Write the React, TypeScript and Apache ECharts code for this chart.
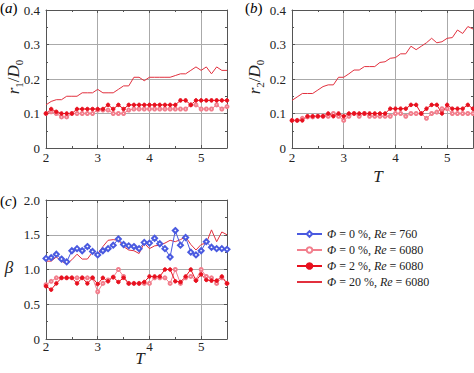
import React, { useEffect, useRef } from 'react';
import * as echarts from 'echarts';

const T = [2.0, 2.1, 2.2, 2.3, 2.4, 2.5, 2.6, 2.7, 2.8, 2.9, 3.0, 3.1, 3.2, 3.3, 3.4, 3.5, 3.6, 3.7, 3.8, 3.9, 4.0, 4.1, 4.2, 4.3, 4.4, 4.5, 4.6, 4.7, 4.8, 4.9, 5.0, 5.1, 5.2, 5.3, 5.4, 5.5];

// panel (a): r1/D0
const a0_6080 = [0.1, 0.105, 0.1, 0.09, 0.09, 0.1, 0.1, 0.1, 0.1, 0.1, 0.11, 0.11, 0.11, 0.1, 0.1, 0.1, 0.11, 0.113, 0.113, 0.113, 0.113, 0.113, 0.113, 0.113, 0.113, 0.113, 0.113, 0.113, 0.125, 0.125, 0.113, 0.113, 0.113, 0.125, 0.113, 0.12];
const a2_6080 = [0.1, 0.113, 0.105, 0.1, 0.1, 0.1, 0.113, 0.113, 0.113, 0.113, 0.113, 0.113, 0.125, 0.113, 0.125, 0.113, 0.125, 0.125, 0.125, 0.125, 0.125, 0.125, 0.125, 0.125, 0.125, 0.125, 0.138, 0.138, 0.125, 0.138, 0.138, 0.138, 0.138, 0.138, 0.138, 0.138];
const a20_6080 = [0.125, 0.135, 0.14, 0.14, 0.15, 0.15, 0.15, 0.16, 0.16, 0.16, 0.17, 0.16, 0.16, 0.16, 0.17, 0.18, 0.18, 0.205, 0.205, 0.195, 0.205, 0.205, 0.205, 0.205, 0.205, 0.21, 0.215, 0.215, 0.225, 0.235, 0.225, 0.235, 0.215, 0.235, 0.225, 0.225];

// panel (b): r2/D0
const b0_6080 = [0.08, 0.08, 0.086, 0.09, 0.09, 0.092, 0.092, 0.092, 0.1, 0.092, 0.08, 0.092, 0.1, 0.092, 0.1, 0.092, 0.092, 0.092, 0.092, 0.092, 0.1, 0.1, 0.092, 0.1, 0.1, 0.1, 0.086, 0.1, 0.104, 0.114, 0.114, 0.1, 0.1, 0.1, 0.1, 0.1];
const b2_6080 = [0.08, 0.08, 0.08, 0.092, 0.092, 0.092, 0.092, 0.1, 0.092, 0.1, 0.092, 0.1, 0.1, 0.1, 0.1, 0.1, 0.1, 0.1, 0.1, 0.114, 0.114, 0.114, 0.114, 0.125, 0.125, 0.1, 0.114, 0.125, 0.125, 0.1, 0.125, 0.114, 0.114, 0.114, 0.125, 0.114];
const b20_6080 = [0.138, 0.148, 0.158, 0.158, 0.158, 0.168, 0.178, 0.183, 0.183, 0.205, 0.205, 0.215, 0.226, 0.226, 0.236, 0.236, 0.236, 0.248, 0.25, 0.26, 0.262, 0.273, 0.273, 0.295, 0.285, 0.295, 0.305, 0.318, 0.305, 0.308, 0.318, 0.32, 0.342, 0.332, 0.352, 0.345];

// panel (c): beta
const c0_760 = [1.16, 1.17, 1.22, 1.15, 1.11, 1.27, 1.3, 1.27, 1.33, 1.26, 1.21, 1.27, 1.3, 1.35, 1.44, 1.36, 1.34, 1.33, 1.3, 1.39, 1.38, 1.45, 1.37, 1.3, 1.18, 1.56, 1.35, 1.46, 1.25, 1.21, 1.27, 1.4, 1.32, 1.3, 1.3, 1.29];
const c0_6080 = [0.78, 0.83, 0.88, 0.88, 0.88, 0.88, 0.88, 0.88, 0.88, 0.88, 0.68, 0.8, 0.85, 0.89, 1.0, 0.9, 0.8, 0.8, 0.8, 0.8, 0.8, 0.88, 0.88, 0.88, 0.8, 1.0, 0.8, 0.88, 0.9, 0.85, 1.0, 0.9, 0.88, 0.8, 0.88, 0.8];
const c2_6080 = [0.76, 0.71, 0.8, 0.88, 0.88, 0.88, 0.8, 0.88, 0.8, 0.88, 0.79, 0.88, 0.83, 0.89, 0.82, 0.88, 0.8, 0.8, 0.8, 0.82, 0.9, 0.9, 0.9, 1.0, 1.0, 0.83, 0.82, 0.9, 1.0, 0.84, 0.93, 0.85, 0.84, 0.84, 0.9, 0.8];
const c20_6080 = [1.12, 1.12, 1.18, 1.12, 1.08, 1.14, 1.22, 1.15, 1.15, 1.25, 1.22, 1.33, 1.42, 1.43, 1.42, 1.33, 1.28, 1.27, 1.23, 1.38, 1.3, 1.34, 1.35, 1.38, 1.42, 1.4, 1.43, 1.47, 1.36, 1.28, 1.36, 1.38, 1.57, 1.4, 1.54, 1.5];

const xTicks = [2, 3, 4, 5];
const r1Ticks = ['0', '0.1', '0.2', '0.3', '0.4'];
const betaTicks = ['0', '0.5', '1.0', '1.5', '2.0'];

const SERIES_NAMES = ['p0_760', 'p0_6080', 'p2_6080', 'p20_6080'];
const LEGEND_TEXT: Record<string, string> = {
  p0_760: '{i|Φ} = 0 %, {i|Re} = 760',
  p0_6080: '{i|Φ} = 0 %, {i|Re} = 6080',
  p2_6080: '{i|Φ} = 2 %, {i|Re} = 6080',
  p20_6080: '{i|Φ} = 20 %, {i|Re} = 6080',
};

const FONT = 'Liberation Serif';
const TXT = '#222';
const AX = '#555';
const GRIDC = '#aaaaaa';

const STYLE: Record<string, any> = {
  p0_760: { color: '#4a5ae0', symbol: 'emptyDiamond', symbolSize: 5 },
  p0_6080: { color: '#f27f8d', symbol: 'emptyCircle', symbolSize: 3 },
  p2_6080: { color: '#e8101e', symbol: 'circle', symbolSize: 3.5 },
  p20_6080: { color: '#e2303e', symbol: 'none', symbolSize: 0 },
};

function pairs(v: number[]) {
  return v.map((y, i) => [T[i], y]);
}

function mkSeries(name: string, values: number[], idx: number) {
  const s = STYLE[name];
  return {
    type: 'line',
    name,
    xAxisIndex: idx,
    yAxisIndex: idx,
    data: pairs(values),
    symbol: s.symbol,
    symbolSize: s.symbolSize,
    showSymbol: s.symbol !== 'none',
    color: s.color,
    lineStyle: { width: 1, color: s.color },
    itemStyle: { color: s.color, borderColor: s.color, borderWidth: 1 },
    emphasis: { disabled: true },
  };
}

const grids = [
  { left: 46, top: 10, width: 181, height: 138 },
  { left: 292, top: 10, width: 181, height: 138 },
  { left: 46, top: 200, width: 181, height: 139 },
];

const yRanges = [
  { max: 0.4, interval: 0.1, labels: r1Ticks },
  { max: 0.4, interval: 0.1, labels: r1Ticks },
  { max: 2.0, interval: 0.5, labels: betaTicks },
];

function xAxisMain(i: number) {
  return {
    type: 'value',
    gridIndex: i,
    min: 2,
    max: 5.5,
    interval: 1,
    axisLine: { show: true, onZero: false, lineStyle: { color: AX, width: 1 } },
    axisTick: { show: true, inside: true, length: 3, lineStyle: { color: AX } },
    minorTick: { show: true, splitNumber: 2, length: 2, lineStyle: { color: AX } },
    splitLine: { show: true, lineStyle: { color: GRIDC, width: 1 } },
    axisLabel: {
      show: true,
      margin: i === 2 ? 1 : 3,
      fontFamily: FONT,
      fontSize: 13,
      color: TXT,
      showMaxLabel: false,
      formatter: (v: number) => (xTicks.includes(v) ? String(v) : ''),
    },
  };
}

function xAxisTop(i: number) {
  return {
    type: 'value',
    gridIndex: i,
    position: 'top',
    min: 2,
    max: 5.5,
    interval: 1,
    axisLine: { show: true, onZero: false, lineStyle: { color: AX, width: 1 } },
    axisTick: { show: true, inside: true, length: 3, lineStyle: { color: AX } },
    minorTick: { show: true, splitNumber: 2, length: 2, lineStyle: { color: AX } },
    splitLine: { show: false },
    axisLabel: { show: false },
  };
}

function yAxisMain(i: number) {
  const r = yRanges[i];
  return {
    type: 'value',
    gridIndex: i,
    min: 0,
    max: r.max,
    interval: r.interval,
    axisLine: { show: true, onZero: false, lineStyle: { color: AX, width: 1 } },
    axisTick: { show: true, inside: true, length: 3, lineStyle: { color: AX } },
    minorTick: { show: true, splitNumber: 2, length: 2, lineStyle: { color: AX } },
    splitLine: { show: true, lineStyle: { color: GRIDC, width: 1 } },
    axisLabel: {
      show: true,
      margin: 6,
      fontFamily: FONT,
      fontSize: 13,
      color: TXT,
      formatter: (v: number) => {
        const k = Math.round(v / r.interval);
        return r.labels[k] ?? '';
      },
    },
  };
}

function yAxisRight(i: number) {
  const r = yRanges[i];
  return {
    type: 'value',
    gridIndex: i,
    position: 'right',
    min: 0,
    max: r.max,
    interval: r.interval,
    axisLine: { show: true, onZero: false, lineStyle: { color: AX, width: 1 } },
    axisTick: { show: true, inside: true, length: 3, lineStyle: { color: AX } },
    minorTick: { show: true, splitNumber: 2, length: 2, lineStyle: { color: AX } },
    splitLine: { show: false },
    axisLabel: { show: false },
  };
}

const richBase = {
  n: { fontFamily: FONT, fontSize: 17, color: TXT, lineHeight: 18 },
  i: { fontFamily: FONT, fontSize: 17, fontStyle: 'italic', color: TXT, lineHeight: 18 },
  s: { fontFamily: FONT, fontSize: 11, color: TXT, verticalAlign: 'bottom', lineHeight: 22 },
};

function titleText(x: number, y: number, text: string, rotation = 0) {
  return {
    type: 'text',
    x,
    y,
    rotation,
    silent: true,
    style: {
      text,
      fontFamily: FONT,
      fontSize: 17,
      fill: TXT,
      align: 'center',
      verticalAlign: 'middle',
      rich: richBase,
    },
  };
}

function panelLabel(x: number, y: number, letter: string) {
  return {
    type: 'text',
    x,
    y,
    silent: true,
    style: {
      text: `{p|(}{l|${letter}}{p|)}`,
      align: 'left',
      verticalAlign: 'middle',
      rich: {
        p: { fontFamily: FONT, fontSize: 15, color: TXT },
        l: { fontFamily: FONT, fontSize: 15, fontStyle: 'italic', color: TXT },
      },
    },
  };
}

export default function App() {
  const ref = useRef<HTMLDivElement>(null);
  useEffect(() => {
    if (!ref.current) return;
    const chart = echarts.init(ref.current, null, { renderer: 'svg' });
    const series = [
      mkSeries('p0_6080', a0_6080, 0),
      mkSeries('p2_6080', a2_6080, 0),
      mkSeries('p20_6080', a20_6080, 0),
      mkSeries('p0_6080', b0_6080, 1),
      mkSeries('p2_6080', b2_6080, 1),
      mkSeries('p20_6080', b20_6080, 1),
      mkSeries('p0_6080', c0_6080, 2),
      mkSeries('p2_6080', c2_6080, 2),
      mkSeries('p20_6080', c20_6080, 2),
      mkSeries('p0_760', c0_760, 2),
    ];
    const legendData = SERIES_NAMES.map((n) =>
      n === 'p20_6080' ? { name: n, itemStyle: { opacity: 0 } } : { name: n }
    );
    const option: any = {
      animation: false,
      backgroundColor: '#fff',
      grid: grids.map((g) => ({ ...g, show: false, containLabel: false })),
      xAxis: [0, 1, 2].map(xAxisMain).concat([0, 1, 2].map(xAxisTop) as any),
      yAxis: [0, 1, 2].map(yAxisMain).concat([0, 1, 2].map(yAxisRight) as any),
      legend: {
        data: legendData,
        orient: 'vertical',
        left: 296,
        top: 227,
        padding: 0,
        itemWidth: 25,
        itemHeight: 7,
        itemGap: 2,
        selectedMode: false,
        formatter: (name: string) => LEGEND_TEXT[name] ?? name,
        textStyle: {
          fontFamily: FONT,
          fontSize: 12,
          color: TXT,
          lineHeight: 14,
          rich: {
            i: { fontFamily: FONT, fontSize: 12, fontStyle: 'italic', color: TXT, lineHeight: 14 },
          },
        },
      },
      graphic: [
        panelLabel(0, 8, 'a'),
        panelLabel(245, 8, 'b'),
        panelLabel(0, 201, 'c'),
        titleText(13, 77, '{i|r}{s|1}{n|/}{i|D}{s|0}', Math.PI / 2),
        titleText(254, 77, '{i|r}{s|2}{n|/}{i|D}{s|0}', Math.PI / 2),
        titleText(9, 267, '{i|β}'),
        titleText(378, 176, '{i|T}'),
        titleText(140, 358, '{i|T}'),
      ],
      series,
    };
    chart.setOption(option);
    return () => chart.dispose();
  }, []);
  return <div ref={ref} style={{ position: 'fixed', left: 0, top: 0, width: 474, height: 373 }} />;
}
